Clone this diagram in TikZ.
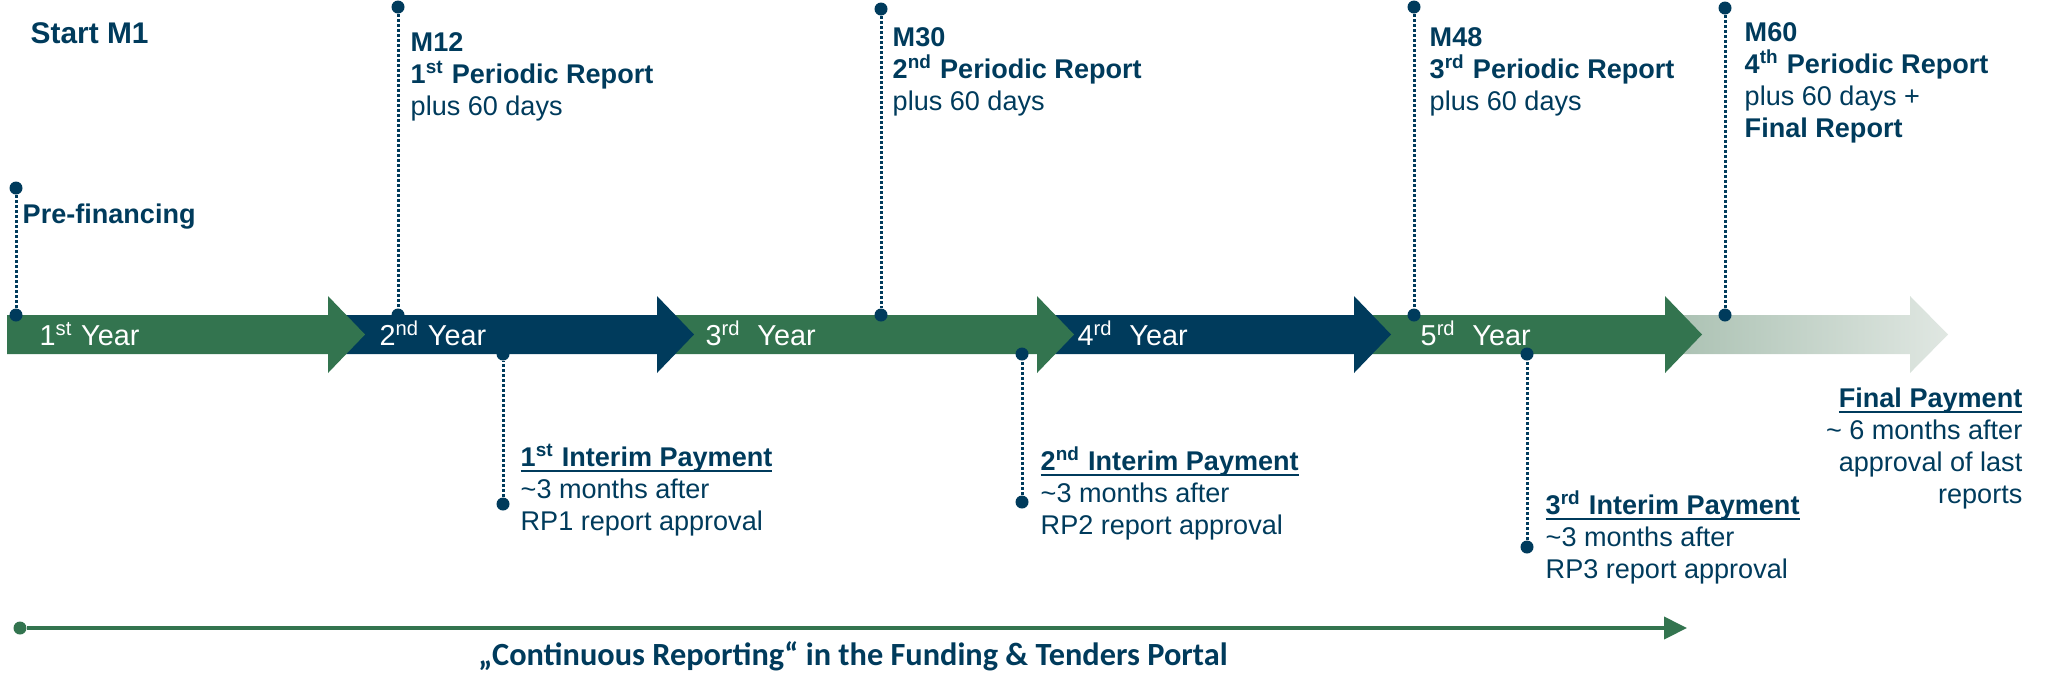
\documentclass[tikz,border=0pt]{standalone}
\usepackage{fontspec}
\setmainfont{Liberation Sans}
\newfontfamily\portalfont{Carlito}
\usetikzlibrary{arrows.meta}
\definecolor{navy}{HTML}{003B5C}
\definecolor{ecgreen}{HTML}{33744F}
\definecolor{fadeL}{HTML}{A9C0B1}
\definecolor{fadeR}{HTML}{E0E7E2}

\begin{document}
\begin{tikzpicture}[x=0.1mm,y=-0.1mm,
  pindot/.style={circle,fill=navy,inner sep=0pt,minimum size=1.3mm},
  dotline/.style={navy,line width=0.3mm,dash pattern=on 0.25mm off 0.25mm},
  lbl/.style={anchor=base west,inner sep=0pt,text=navy,align=left,font=\fontsize{7.7}{9.1}\selectfont},
  yr/.style={anchor=base west,inner sep=0pt,text=white,font=\fontsize{8.2}{9}\selectfont}]
\useasboundingbox (0,0) rectangle (2048,697);
\shade[left color=fadeL,right color=fadeR] (1665,315) -- (1910,315) -- (1910,296) -- (1948,334.5) -- (1910,373) -- (1910,354) -- (1665,354) -- cycle;
\foreach \xa/\xb/\col in {1354/1665/ecgreen, 1037/1354/navy, 657/1037/ecgreen, 328/657/navy, 7/328/ecgreen} {
 \fill[\col] (\xa,315) -- (\xb,315) -- (\xb,296) -- ({\xb+37},334.5) -- (\xb,373) -- (\xb,354) -- (\xa,354) -- cycle;
}
\foreach \n/\x/\t in {yr1/39/1\textsuperscript{st} Year, yr2/379/2\textsuperscript{nd} Year, yr3/705/3\textsuperscript{rd}\ \ Year, yr4/1077/4\textsuperscript{rd}\ \ Year, yr5/1420/5\textsuperscript{rd}\ \ Year} {
 \node[yr] (\n) at (\x,345) {\t};
}
\foreach \n/\x/\ya/\yb in {pre/16/188/315, m12/398/7/315, m30/881/9/315, m48/1414/7/315, m60/1725/8/315, ip1/503/504/354, ip2/1022/502/354, ip3/1527/547/354} {
 \node[pindot] (\n-a) at (\x,\ya) {};
 \node[pindot] (\n-b) at (\x,\yb) {};
 \draw[dotline] (\n-a) -- (\n-b);
}
\node[lbl,font=\fontsize{8.5}{10}\selectfont] (start) at (30,43) {\textbf{Start M1}};
\node[lbl] (prefin) at (22,223) {\textbf{Pre-financing}};
\foreach \n/\x/\y/\m/\s in {rep1/410/115/M12/1\textsuperscript{st}, rep2/892/110/M30/2\textsuperscript{nd}, rep3/1429/110/M48/3\textsuperscript{rd}} {
 \node[lbl] (\n) at (\x,\y) {\textbf{\m}\\\textbf{\s\ Periodic Report}\\plus 60 days};
}
\node[lbl] (rep4) at (1744,137) {\textbf{M60}\\\textbf{4\textsuperscript{th} Periodic Report}\\plus 60 days +\\\textbf{Final Report}};
\foreach \n/\x/\y/\s/\k in {pay1/520/530/1\textsuperscript{st}/1, pay2/1040/534/2\textsuperscript{nd}/2, pay3/1545/578/3\textsuperscript{rd}/3} {
 \node[lbl] (\n) at (\x,\y) {\underline{\smash{\textbf{\s\ Interim Payment}}}\\\textasciitilde3 months after\\RP\k\ report approval};
}
\node[lbl,anchor=base east,align=right] (finpay) at (2023,503) {\underline{\smash{\textbf{Final Payment}}}\\\textasciitilde\ 6 months after\\approval of last\\reports};
\node[pindot,fill=ecgreen] (cr-a) at (20,628) {};
\coordinate (cr-b) at (1687,628);
\draw[ecgreen,line width=0.4mm,-{Triangle[length=2.3mm,width=2.2mm]}] (cr-a) -- (cr-b);
\node[anchor=base,inner sep=0pt,text=navy,font=\portalfont\bfseries\fontsize{9.2}{11}\selectfont] (portal) at (853,665) {„Continuous Reporting“ in the Funding \& Tenders Portal};
\end{tikzpicture}
\end{document}
